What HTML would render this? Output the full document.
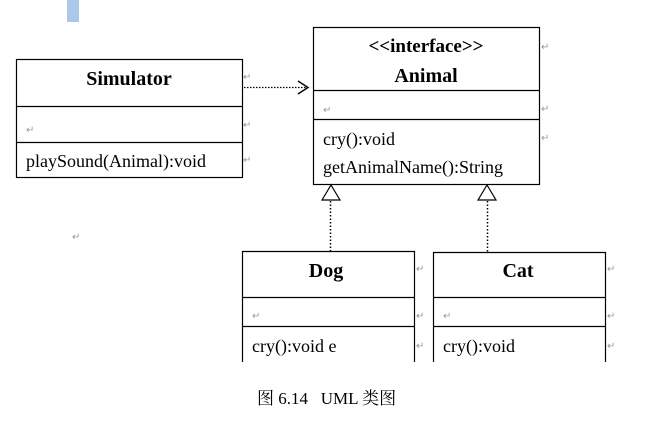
<!DOCTYPE html>
<html><head><meta charset="utf-8"><style>
html,body{margin:0;padding:0;background:#fff;width:650px;height:434px;overflow:hidden}
svg text{font-family:"Liberation Serif","Noto Serif CJK SC",serif;fill:#000}
.m{fill:#999;font-size:10px}
</style></head><body>
<svg width="650" height="434" xmlns="http://www.w3.org/2000/svg">
<rect x="67" y="0" width="12" height="22" fill="#a9c8ea"/>
<g fill="none" stroke="#000" stroke-width="1.2">
<rect x="16.5" y="59.5" width="226" height="118"/>
<line x1="16" y1="106.5" x2="242" y2="106.5"/>
<line x1="16" y1="142.5" x2="242" y2="142.5"/>
<rect x="313.5" y="27.5" width="226" height="157"/>
<line x1="313" y1="90.5" x2="539" y2="90.5"/>
<line x1="313" y1="119.5" x2="539" y2="119.5"/>
<path d="M242.5 362V251.5H414.5V362"/>
<line x1="242" y1="297.5" x2="414" y2="297.5"/>
<line x1="242" y1="326.5" x2="414" y2="326.5"/>
<path d="M433.5 362V252.5H605.5V362"/>
<line x1="433" y1="297.5" x2="605" y2="297.5"/>
<line x1="433" y1="326.5" x2="605" y2="326.5"/>
<line x1="244" y1="87.5" x2="307" y2="87.5" stroke-dasharray="1.5 1.5"/>
<path d="M298 81L308 87.5L298 94" stroke-width="1.4"/>
<path d="M331 185L322 200H340Z"/>
<path d="M487 185L478 200H496Z"/>
<line x1="330.5" y1="201" x2="330.5" y2="251" stroke-dasharray="1.5 2" stroke-width="1.5"/>
<line x1="487.5" y1="201" x2="487.5" y2="252" stroke-dasharray="1.5 2" stroke-width="1.5"/>
</g>
<text x="129" y="85" font-size="20" font-weight="bold" text-anchor="middle">Simulator</text>
<text x="26" y="167" font-size="18">playSound(Animal):void</text>
<text x="26" y="133" class="m">↵</text>
<text x="243" y="80" class="m">↵</text><text x="243" y="128" class="m">↵</text><text x="243" y="163" class="m">↵</text>
<text x="426" y="52" font-size="19" font-weight="bold" text-anchor="middle">&lt;&lt;interface&gt;&gt;</text>
<text x="426" y="82" font-size="20" font-weight="bold" text-anchor="middle">Animal</text>
<text x="323" y="145" font-size="18">cry():void</text>
<text x="323" y="173" font-size="18">getAnimalName():String</text>
<text x="323" y="113" class="m">↵</text>
<text x="541" y="50" class="m">↵</text><text x="541" y="112" class="m">↵</text><text x="541" y="141" class="m">↵</text>
<text x="326" y="277" font-size="20" font-weight="bold" text-anchor="middle">Dog</text>
<text x="252" y="352" font-size="18">cry():void e</text>
<text x="252" y="319" class="m">↵</text>
<text x="416" y="272" class="m">↵</text><text x="416" y="319" class="m">↵</text><text x="416" y="349" class="m">↵</text>
<text x="518" y="277" font-size="20" font-weight="bold" text-anchor="middle">Cat</text>
<text x="443" y="352" font-size="18">cry():void</text>
<text x="443" y="319" class="m">↵</text>
<text x="607" y="272" class="m">↵</text><text x="607" y="319" class="m">↵</text><text x="607" y="349" class="m">↵</text>
<text x="72" y="240" class="m">↵</text>
<text x="257" y="404" font-size="17">图 6.14 &#160;&#160;UML 类图</text>
</svg>
</body></html>
